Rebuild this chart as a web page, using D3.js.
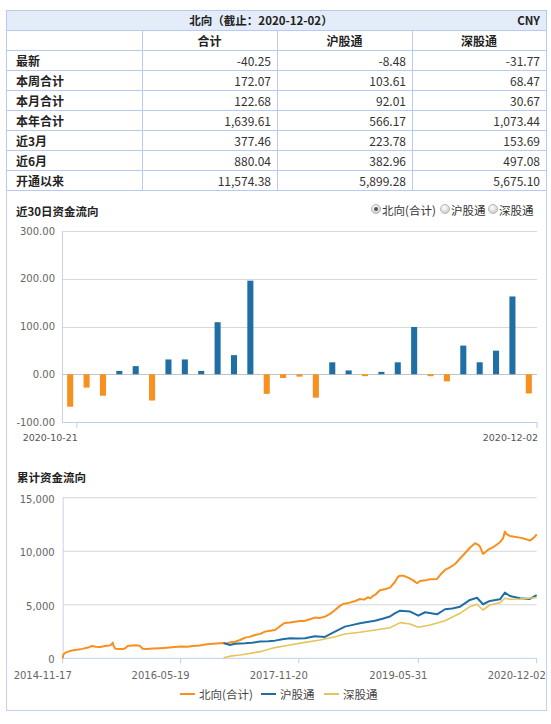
<!DOCTYPE html>
<html><head><meta charset="utf-8">
<script src="https://cdn.jsdelivr.net/npm/d3@7"></script>
<style>body{margin:0;background:#fff}svg{display:block}</style>
</head><body><svg id="c" width="551" height="724"></svg>
<script>
// ---------- data ----------
const tableTitle = "北向（截止：2020-12-02）";
const currency = "CNY";
const columns = ["合计", "沪股通", "深股通"];
const rowLabels = ["最新", "本周合计", "本月合计", "本年合计", "近3月", "近6月", "开通以来"];
const totalCol = [-40.25, 172.07, 122.68, 1639.61, 377.46, 880.04, 11574.38];
const shCol = [-8.48, 103.61, 92.01, 566.17, 223.78, 382.96, 5899.28];
const szCol = [-31.77, 68.47, 30.67, 1073.44, 153.69, 497.08, 5675.10];

const dailyTitle = "近30日资金流向";
const radioLabels = ["北向(合计)", "沪股通", "深股通"];
const dailyFlow = [-68, -28, -45, 7, 17, -55, 31, 31, 7, 109, 40, 196, -41, -8, -5, -49,
                   25, 8, -4, 5, 25, 99, -4, -15, 60, 25, 49.39, 162.93, -40.25];
const dailyTickLabels = ["2020-10-21", "2020-12-02"];
const dailyYTicks = [-100, 0, 100, 200, 300];

const cumTitle = "累计资金流向";
const seriesNames = ["北向(合计)", "沪股通", "深股通"];
const cumXTicks = ["2014-11-17", "2016-05-19", "2017-11-20", "2019-05-31", "2020-12-02"];
const cumYTicks = [0, 5000, 10000, 15000];
const northSeries = [
 ["2014-11-17",0],["2014-11-20",350],["2014-11-28",500],["2014-12-12",620],["2014-12-26",700],
 ["2015-01-13",780],["2015-01-30",820],["2015-02-16",880],["2015-03-15",1000],["2015-04-02",1150],
 ["2015-04-20",1080],["2015-05-10",1050],["2015-05-28",1130],["2015-06-10",1180],["2015-06-25",1200],
 ["2015-07-03",1300],["2015-07-08",1460],["2015-07-12",1180],["2015-07-20",900],["2015-08-10",870],
 ["2015-08-28",880],["2015-09-08",1000],["2015-09-15",1150],["2015-10-05",1190],["2015-10-25",1220],
 ["2015-11-10",1180],["2015-11-25",900],["2015-12-15",880],["2016-01-10",920],["2016-02-13",950],
 ["2016-03-15",990],["2016-04-23",1050],["2016-05-21",1100],["2016-06-20",1080],["2016-07-15",1150],
 ["2016-08-17",1200],["2016-09-10",1280],["2016-10-03",1330],["2016-11-01",1380],["2016-11-18",1400],
 ["2016-12-05",1420],["2016-12-20",1380],["2017-01-04",1490],["2017-01-27",1550],["2017-02-20",1710],
 ["2017-03-15",1930],["2017-04-05",2000],["2017-04-30",2180],["2017-05-25",2280],["2017-06-16",2490],
 ["2017-07-10",2580],["2017-08-01",2640],["2017-08-25",3000],["2017-09-15",3300],["2017-10-10",3350],
 ["2017-11-02",3420],["2017-11-26",3480],["2017-12-19",3490],["2018-01-10",3650],["2018-02-03",3800],
 ["2018-02-25",3760],["2018-03-22",3890],["2018-04-15",4150],["2018-05-08",4510],["2018-05-28",4850],
 ["2018-06-14",5075],["2018-07-16",5200],["2018-08-10",5350],["2018-09-01",5540],["2018-09-20",5480],
 ["2018-10-08",5700],["2018-10-20",5600],["2018-10-27",5760],["2018-11-15",6000],["2018-12-03",6350],
 ["2018-12-25",6450],["2019-01-19",6600],["2019-02-10",7100],["2019-02-25",7600],["2019-03-07",7720],
 ["2019-03-25",7700],["2019-04-13",7530],["2019-05-05",7300],["2019-05-25",7010],["2019-06-08",7220],
 ["2019-07-05",7300],["2019-07-25",7380],["2019-08-26",7410],["2019-09-10",7800],["2019-10-02",8250],
 ["2019-10-25",8500],["2019-11-18",8810],["2019-12-10",9300],["2020-01-03",9810],["2020-01-25",10300],
 ["2020-02-19",10750],["2020-03-05",10600],["2020-03-13",10430],["2020-03-27",9750],["2020-04-19",10120],
 ["2020-05-15",10400],["2020-06-14",10840],["2020-06-28",11200],["2020-07-07",11830],["2020-07-15",11600],
 ["2020-07-30",11430],["2020-08-20",11350],["2020-09-15",11270],["2020-10-10",11150],["2020-10-31",10990],
 ["2020-11-15",11200],["2020-11-25",11400],["2020-12-02",11574.38]
];
const shSeries = [
 ["2016-12-05",1420],["2016-12-20",1330],["2017-01-04",1240],["2017-01-27",1350],["2017-02-20",1380],
 ["2017-03-15",1400],["2017-04-15",1450],["2017-05-24",1560],["2017-07-01",1600],["2017-08-01",1650],
 ["2017-09-05",1780],["2017-10-10",1870],["2017-11-15",1860],["2017-12-19",1870],["2018-02-03",2050],
 ["2018-03-22",2000],["2018-04-15",2250],["2018-05-08",2490],["2018-06-23",2960],["2018-07-25",3100],
 ["2018-09-01",3270],["2018-10-05",3400],["2018-11-10",3500],["2018-12-15",3700],["2019-01-19",3900],
 ["2019-02-10",4200],["2019-03-07",4450],["2019-04-23",4360],["2019-05-31",3980],["2019-07-01",4300],
 ["2019-08-26",4110],["2019-10-02",4580],["2019-11-05",4650],["2019-12-11",4820],["2020-01-26",5450],
 ["2020-02-28",5660],["2020-03-27",5050],["2020-04-28",5360],["2020-06-14",5510],["2020-07-07",6130],
 ["2020-07-30",5820],["2020-09-15",5610],["2020-10-31",5540],["2020-12-02",5899.28]
];
const szSeries = [
 ["2016-12-05",50],["2017-01-04",200],["2017-02-20",310],["2017-05-24",620],["2017-08-01",1000],
 ["2017-10-10",1240],["2017-12-19",1490],["2018-02-27",1710],["2018-05-08",2020],["2018-06-23",2270],
 ["2018-09-01",2430],["2018-11-10",2640],["2019-01-19",2850],["2019-03-07",3330],["2019-04-23",3200],
 ["2019-05-31",2900],["2019-07-25",3110],["2019-10-02",3510],["2019-12-11",4200],["2020-01-26",4820],
 ["2020-02-28",5050],["2020-03-27",4510],["2020-04-28",4980],["2020-06-14",5200],["2020-07-07",5610],
 ["2020-07-30",5510],["2020-09-15",5540],["2020-12-02",5675.10]
];

// ---------- styles ----------
const CJK = "'Noto Sans CJK SC','Noto Sans',sans-serif";
const NUM = "'DejaVu Sans',sans-serif";
const ORANGE = "#f7901e", BLUE = "#1f6fa5", YELLOW = "#e6c45c";
const seriesColors = [ORANGE, BLUE, YELLOW];
const locale = d3.formatLocale({decimal: ".", thousands: ",", grouping: [3], currency: ["", ""], minus: "-"});

const svg = d3.select("#c");
const parse = d3.timeParse("%Y-%m-%d");

// ---------- panel & table ----------
const colX = [6, 142, 277, 412, 546];
const tTop = 10, headH = 20, rowH = 20;
const nRows = rowLabels.length + 1;
const tBottom = tTop + headH + nRows * rowH;
const lineC = "#b8caee";

svg.append("rect").attr("x", 6.5).attr("y", 10.5).attr("width", 540).attr("height", 700)
  .attr("fill", "none").attr("stroke", "#c3d2f0");
svg.append("rect").attr("x", 6.5).attr("y", tTop + 0.5).attr("width", 540).attr("height", headH)
  .attr("fill", "#e4ecf9").attr("stroke", lineC);

const tg = svg.append("g");
for (let i = 0; i <= nRows; i++) {
  const y = tTop + headH + i * rowH + 0.5;
  tg.append("line").attr("x1", 6).attr("x2", 546).attr("y1", y).attr("y2", y).attr("stroke", lineC);
}
colX.forEach(x => {
  tg.append("line").attr("x1", x + 0.5).attr("x2", x + 0.5).attr("y1", tTop + headH).attr("y2", tBottom)
    .attr("stroke", lineC);
});
tg.append("text").attr("x", 261).attr("y", tTop + headH / 2).attr("text-anchor", "middle")
  .attr("dominant-baseline", "central").attr("font-family", CJK).attr("font-size", 11.5)
  .attr("font-weight", "bold").attr("fill", "#222").text(tableTitle);
tg.append("text").attr("x", 540).attr("y", tTop + headH / 2).attr("text-anchor", "end")
  .attr("dominant-baseline", "central").attr("font-family", CJK).attr("font-size", 11.5)
  .attr("font-weight", "bold").attr("fill", "#222").text(currency);
columns.forEach((c, i) => {
  tg.append("text").attr("x", (colX[i + 1] + colX[i + 2]) / 2).attr("y", tTop + headH + rowH / 2)
    .attr("text-anchor", "middle").attr("dominant-baseline", "central").attr("font-family", CJK)
    .attr("font-size", 12).attr("font-weight", "bold").attr("fill", "#222").text(c);
});
const fmt = locale.format(",.2f");
const colsData = [totalCol, shCol, szCol];
rowLabels.forEach((r, j) => {
  const cy = tTop + headH + (j + 1) * rowH + rowH / 2;
  tg.append("text").attr("x", 16).attr("y", cy).attr("dominant-baseline", "central")
    .attr("font-family", CJK).attr("font-size", 12).attr("font-weight", "bold").attr("fill", "#222").text(r);
  colsData.forEach((col, i) => {
    tg.append("text").attr("x", colX[i + 2] - 6).attr("y", cy).attr("text-anchor", "end")
      .attr("dominant-baseline", "central").attr("font-family", CJK).attr("font-size", 12)
      .attr("fill", "#333").text(fmt(col[j]));
  });
});

// ---------- daily bar chart ----------
const bL = 62, bR = 537, bT = 231, bB = 422;
svg.append("text").attr("x", 16).attr("y", 211).attr("dominant-baseline", "central")
  .attr("font-family", CJK).attr("font-size", 11.5).attr("font-weight", "bold").attr("fill", "#222")
  .text(dailyTitle);

const defs = svg.append("defs");
const rg = defs.append("radialGradient").attr("id", "rg").attr("cx", "40%").attr("cy", "35%").attr("r", "70%");
rg.append("stop").attr("offset", "0%").attr("stop-color", "#ffffff");
rg.append("stop").attr("offset", "100%").attr("stop-color", "#c8c8c8");
const radioX = [376, 445, 493];
radioLabels.forEach((t, i) => {
  svg.append("circle").attr("cx", radioX[i]).attr("cy", 209).attr("r", 4.5)
    .attr("fill", "url(#rg)").attr("stroke", "#a8a8a8").attr("stroke-width", 0.8);
  if (i === 0) svg.append("circle").attr("cx", radioX[i]).attr("cy", 209).attr("r", 2).attr("fill", "#555");
  svg.append("text").attr("x", radioX[i] + 6).attr("y", 210).attr("dominant-baseline", "central")
    .attr("font-family", CJK).attr("font-size", 11.5).attr("fill", "#333").text(t);
});

const xb = d3.scaleBand().domain(d3.range(dailyFlow.length)).range([bL, bR]).padding(0);
const yb = d3.scaleLinear().domain([-100, 300]).range([bB, bT]);
const barW = xb.bandwidth() * 0.37;

const bg = svg.append("g");
dailyYTicks.filter(v => v > -100).forEach(v => {
  bg.append("line").attr("x1", bL).attr("x2", bR).attr("y1", Math.round(yb(v)) + 0.5).attr("y2", Math.round(yb(v)) + 0.5)
    .attr("stroke", v === 0 ? "#c4c4c4" : "#d9d9d9");
});
bg.append("g").attr("transform", `translate(${bL},0)`)
  .call(d3.axisLeft(yb).tickValues(dailyYTicks).tickFormat(locale.format(".2f")).tickSize(0).tickPadding(7))
  .call(g => g.select(".domain").attr("stroke", "#c8d4e6"))
  .call(g => g.selectAll("text").attr("font-family", NUM).attr("font-size", 10).attr("fill", "#666"));
bg.selectAll("rect.bar").data(dailyFlow).join("rect").attr("class", "bar")
  .attr("x", (d, i) => xb(i) + xb.bandwidth() / 2 - barW / 2)
  .attr("width", barW)
  .attr("y", d => yb(Math.max(0, d)))
  .attr("height", d => Math.abs(yb(d) - yb(0)))
  .attr("fill", d => d < 0 ? ORANGE : BLUE);
bg.append("line").attr("x1", bL).attr("x2", bR).attr("y1", bB + 0.5).attr("y2", bB + 0.5).attr("stroke", "#c0cfe6");
const tickIdx = [0, dailyFlow.length - 1];
tickIdx.forEach((idx, k) => {
  const x = xb(idx) + xb.bandwidth() - (k === 0 ? 1.5 : 0);
  bg.append("line").attr("x1", x).attr("x2", x).attr("y1", bB).attr("y2", bB + 6).attr("stroke", "#c0cfe6");
  bg.append("text").attr("x", x + 1).attr("y", bB + 15).attr("text-anchor", "end")
    .attr("dominant-baseline", "central").attr("font-family", NUM).attr("font-size", 9.5)
    .attr("fill", "#555").text(dailyTickLabels[k]);
});

// ---------- cumulative line chart ----------
const lL = 62.7, lR = 536.7, lT = 497.7, lB = 658.3;
svg.append("text").attr("x", 17).attr("y", 477).attr("dominant-baseline", "central")
  .attr("font-family", CJK).attr("font-size", 11.5).attr("font-weight", "bold").attr("fill", "#222")
  .text(cumTitle);
const xl = d3.scaleTime().domain([parse(cumXTicks[0]), parse(cumXTicks[cumXTicks.length - 1])]).range([lL, lR]);
const yl = d3.scaleLinear().domain([0, 15000]).range([lB, lT]);
const lg = svg.append("g");
cumYTicks.filter(v => v > 0).forEach(v => {
  lg.append("line").attr("x1", lL).attr("x2", lR).attr("y1", yl(v)).attr("y2", yl(v)).attr("stroke", "#d6d6d6");
});
lg.append("g").attr("transform", `translate(${lL},0)`)
  .call(d3.axisLeft(yl).tickValues(cumYTicks).tickFormat(locale.format(",")).tickSize(0).tickPadding(8))
  .call(g => g.select(".domain").attr("stroke", "#c8d4e6"))
  .call(g => g.selectAll("text").attr("font-family", NUM).attr("font-size", 10).attr("fill", "#666").attr("dy", "0.45em"));
lg.append("line").attr("x1", lL).attr("x2", lR).attr("y1", lB).attr("y2", lB).attr("stroke", "#c0cfe6");
cumXTicks.forEach(t => {
  const x = xl(parse(t));
  lg.append("line").attr("x1", x).attr("x2", x).attr("y1", lB).attr("y2", lB + 5).attr("stroke", "#c0cfe6");
  lg.append("text").attr("x", x - 20).attr("y", lB + 17).attr("text-anchor", "middle")
    .attr("dominant-baseline", "central").attr("font-family", NUM).attr("font-size", 10)
    .attr("fill", "#666").text(t);
});
const line = d3.line().x(d => xl(parse(d[0]))).y(d => yl(d[1]));
[northSeries, shSeries, szSeries].forEach((s, i) => {
  lg.append("path").datum(s).attr("d", line).attr("fill", "none").attr("stroke", seriesColors[i])
    .attr("stroke-width", i === 2 ? 1.6 : 2).attr("stroke-linejoin", "round");
});
const legX = [180, 261, 324];
seriesNames.forEach((n, i) => {
  svg.append("line").attr("x1", legX[i]).attr("x2", legX[i] + 15).attr("y1", 694).attr("y2", 694)
    .attr("stroke", seriesColors[i]).attr("stroke-width", 2);
  svg.append("text").attr("x", legX[i] + 19).attr("y", 694).attr("dominant-baseline", "central")
    .attr("font-family", CJK).attr("font-size", 11.5).attr("fill", "#444").text(n);
});
</script></body></html>
